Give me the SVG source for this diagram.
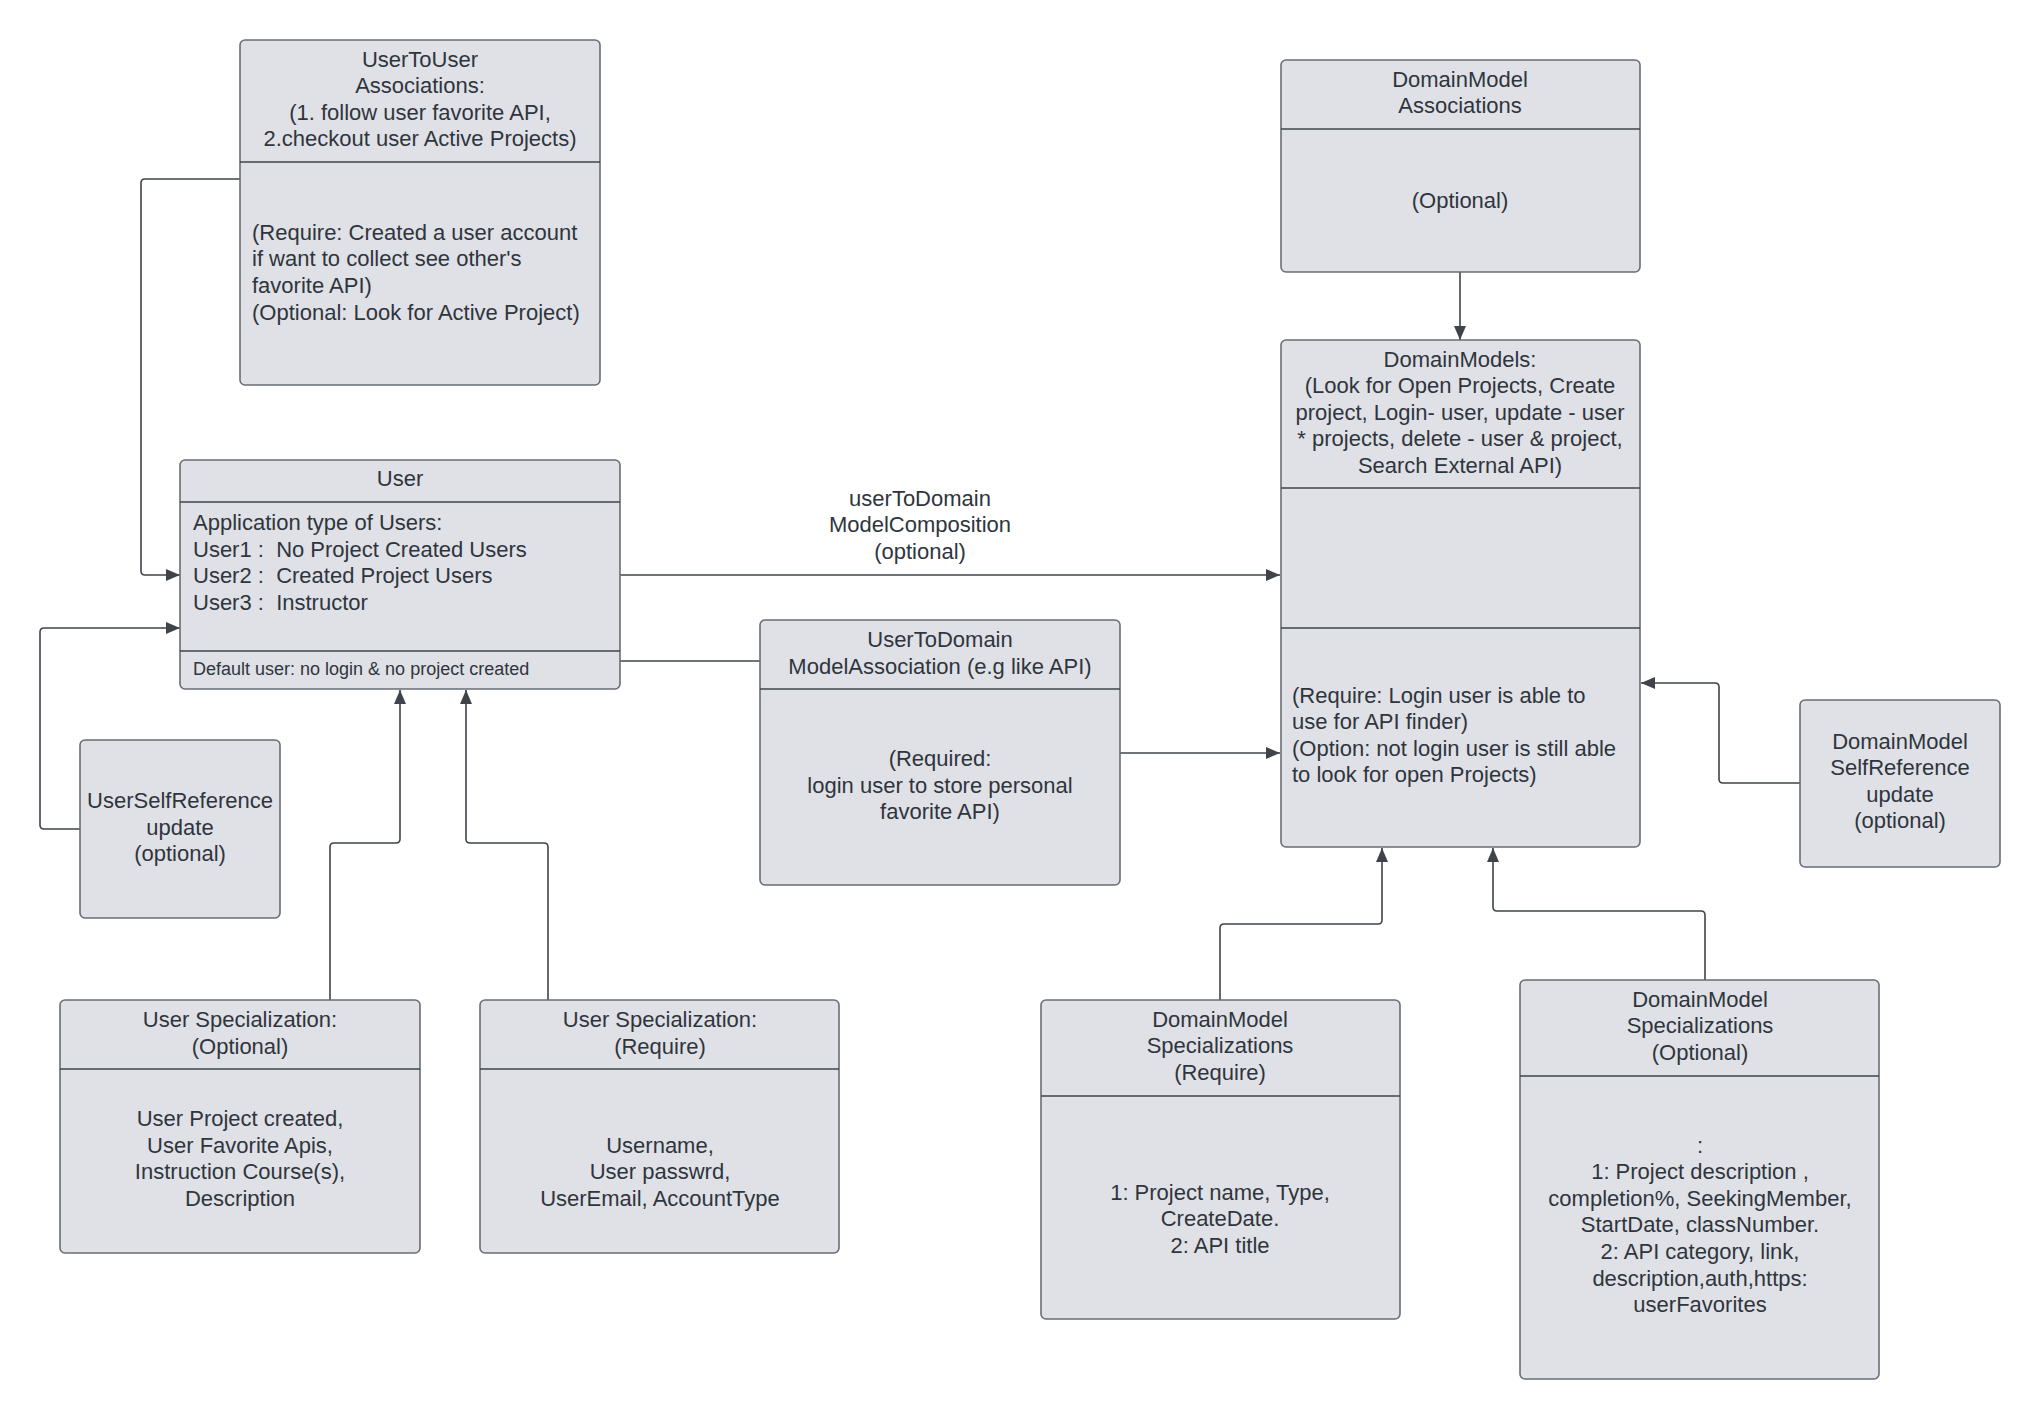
<svg xmlns="http://www.w3.org/2000/svg" width="2041" height="1420" viewBox="0 0 2041 1420">
<defs>
<style>
.box{fill:#dfe1e6;stroke:#6a6e74;stroke-width:1.6}
.div{stroke:#3f444b;stroke-width:1.6}
.t{font-family:"Liberation Sans",Arial,sans-serif;font-size:22px;fill:#2f353d;white-space:pre}
.c{text-anchor:middle}
.s{font-size:18px}
.con{fill:none;stroke:#3f444b;stroke-width:1.6}
</style>
<marker id="arr" viewBox="0 0 14 12" refX="14" refY="6" markerWidth="14" markerHeight="12" markerUnits="userSpaceOnUse" orient="auto">
<path d="M0,0 L14,6 L0,12 Z" fill="#3f444b"/>
</marker>
</defs>
<rect width="2041" height="1420" fill="#ffffff"/>

<g id="connectors">
<path class="con" d="M240,179 H145 Q141,179 141,183 V571 Q141,575 145,575 H180" marker-end="url(#arr)"/>
<path class="con" d="M80,829 H44 Q40,829 40,825 V632 Q40,628 44,628 H180" marker-end="url(#arr)"/>
<path class="con" d="M620,575 H1280" marker-end="url(#arr)"/>
<path class="con" d="M620,661 H760"/>
<path class="con" d="M1120,753 H1280" marker-end="url(#arr)"/>
<path class="con" d="M1460,272 V340" marker-end="url(#arr)"/>
<path class="con" d="M1800,783 H1723 Q1719,783 1719,779 V687 Q1719,683 1715,683 H1641" marker-end="url(#arr)"/>
<path class="con" d="M330,1000 V847 Q330,843 334,843 H396 Q400,843 400,839 V690" marker-end="url(#arr)"/>
<path class="con" d="M548,1000 V847 Q548,843 544,843 H470 Q466,843 466,839 V690" marker-end="url(#arr)"/>
<path class="con" d="M1220,1000 V928 Q1220,924 1224,924 H1378 Q1382,924 1382,920 V848" marker-end="url(#arr)"/>
<path class="con" d="M1705,980 V915 Q1705,911 1701,911 H1497 Q1493,911 1493,907 V848" marker-end="url(#arr)"/>
<text class="t c"><tspan x="920" y="505.5">userToDomain</tspan><tspan x="920" y="532">ModelComposition</tspan><tspan x="920" y="559">(optional)</tspan></text>
</g>

<g id="userToUser">
<rect class="box" x="240" y="40" width="360" height="345" rx="5"/>
<line class="div" x1="240" y1="162" x2="600" y2="162"/>
<text class="t c"><tspan x="420" y="66.5">UserToUser</tspan><tspan x="420" y="93">Associations:</tspan><tspan x="420" y="119.5">(1. follow user favorite API,</tspan><tspan x="420" y="146">2.checkout user Active Projects)</tspan></text>
<text class="t"><tspan x="252" y="239.5">(Require: Created a user account</tspan><tspan x="252" y="266">if want to collect see other's</tspan><tspan x="252" y="293">favorite API)</tspan><tspan x="252" y="319.5">(Optional: Look for Active Project)</tspan></text>
</g>

<g id="user">
<rect class="box" x="180" y="460" width="440" height="229" rx="5"/>
<line class="div" x1="180" y1="502" x2="620" y2="502"/>
<line class="div" x1="180" y1="651" x2="620" y2="651"/>
<text class="t c" x="400" y="485.5">User</text>
<text class="t"><tspan x="193" y="529.5">Application type of Users:</tspan><tspan x="193" y="556.5">User1 :  No Project Created Users</tspan><tspan x="193" y="582.5">User2 :  Created Project Users</tspan><tspan x="193" y="609.5">User3 :  Instructor</tspan></text>
<text class="t s" x="193" y="675">Default user: no login &amp; no project created</text>
</g>

<g id="userSelfReference">
<rect class="box" x="80" y="740" width="200" height="178" rx="5"/>
<text class="t c"><tspan x="180" y="807.5">UserSelfReference</tspan><tspan x="180" y="834.5">update</tspan><tspan x="180" y="860.5">(optional)</tspan></text>
</g>

<g id="userSpecOptional">
<rect class="box" x="60" y="1000" width="360" height="253" rx="5"/>
<line class="div" x1="60" y1="1069" x2="420" y2="1069"/>
<text class="t c"><tspan x="240" y="1026.5">User Specialization:</tspan><tspan x="240" y="1053.5">(Optional)</tspan></text>
<text class="t c"><tspan x="240" y="1125.5">User Project created,</tspan><tspan x="240" y="1152.5">User Favorite Apis,</tspan><tspan x="240" y="1179">Instruction Course(s),</tspan><tspan x="240" y="1206">Description</tspan></text>
</g>

<g id="userSpecRequire">
<rect class="box" x="480" y="1000" width="359" height="253" rx="5"/>
<line class="div" x1="480" y1="1069" x2="839" y2="1069"/>
<text class="t c"><tspan x="660" y="1026.5">User Specialization:</tspan><tspan x="660" y="1053.5">(Require)</tspan></text>
<text class="t c"><tspan x="660" y="1152.5">Username,</tspan><tspan x="660" y="1179">User passwrd,</tspan><tspan x="660" y="1206">UserEmail, AccountType</tspan></text>
</g>

<g id="userToDomainAssociation">
<rect class="box" x="760" y="620" width="360" height="265" rx="5"/>
<line class="div" x1="760" y1="689" x2="1120" y2="689"/>
<text class="t c"><tspan x="940" y="646.5">UserToDomain</tspan><tspan x="940" y="673.5">ModelAssociation (e.g like API)</tspan></text>
<text class="t c"><tspan x="940" y="765.5">(Required:</tspan><tspan x="940" y="792.5">login user to store personal</tspan><tspan x="940" y="819">favorite API)</tspan></text>
</g>

<g id="domainModelAssociations">
<rect class="box" x="1281" y="60" width="359" height="212" rx="5"/>
<line class="div" x1="1281" y1="129" x2="1640" y2="129"/>
<text class="t c"><tspan x="1460" y="86.5">DomainModel</tspan><tspan x="1460" y="112.5">Associations</tspan></text>
<text class="t c" x="1460" y="207.5">(Optional)</text>
</g>

<g id="domainModels">
<rect class="box" x="1281" y="340" width="359" height="507" rx="5"/>
<line class="div" x1="1281" y1="488" x2="1640" y2="488"/>
<line class="div" x1="1281" y1="628" x2="1640" y2="628"/>
<text class="t c"><tspan x="1460" y="366.5">DomainModels:</tspan><tspan x="1460" y="393">(Look for Open Projects, Create</tspan><tspan x="1460" y="419.5">project, Login- user, update - user</tspan><tspan x="1460" y="446">* projects, delete - user &amp; project,</tspan><tspan x="1460" y="473">Search External API)</tspan></text>
<text class="t"><tspan x="1292" y="702.5">(Require: Login user is able to</tspan><tspan x="1292" y="729">use for API finder)</tspan><tspan x="1292" y="755.5">(Option: not login user is still able</tspan><tspan x="1292" y="782">to look for open Projects)</tspan></text>
</g>

<g id="domainModelSelfReference">
<rect class="box" x="1800" y="700" width="200" height="167" rx="5"/>
<text class="t c"><tspan x="1900" y="748.5">DomainModel</tspan><tspan x="1900" y="775">SelfReference</tspan><tspan x="1900" y="801.5">update</tspan><tspan x="1900" y="828">(optional)</tspan></text>
</g>

<g id="domainModelSpecRequire">
<rect class="box" x="1041" y="1000" width="359" height="319" rx="5"/>
<line class="div" x1="1041" y1="1096" x2="1400" y2="1096"/>
<text class="t c"><tspan x="1220" y="1026.5">DomainModel</tspan><tspan x="1220" y="1053">Specializations</tspan><tspan x="1220" y="1079.5">(Require)</tspan></text>
<text class="t c"><tspan x="1220" y="1199.5">1: Project name, Type,</tspan><tspan x="1220" y="1226">CreateDate.</tspan><tspan x="1220" y="1252.5">2: API title</tspan></text>
</g>

<g id="domainModelSpecOptional">
<rect class="box" x="1520" y="980" width="359" height="399" rx="5"/>
<line class="div" x1="1520" y1="1076" x2="1879" y2="1076"/>
<text class="t c"><tspan x="1700" y="1006.5">DomainModel</tspan><tspan x="1700" y="1033">Specializations</tspan><tspan x="1700" y="1059.5">(Optional)</tspan></text>
<text class="t c"><tspan x="1700" y="1152.5">:</tspan><tspan x="1700" y="1179">1: Project description ,</tspan><tspan x="1700" y="1205.5">completion%, SeekingMember,</tspan><tspan x="1700" y="1232">StartDate, classNumber.</tspan><tspan x="1700" y="1259">2: API category, link,</tspan><tspan x="1700" y="1285.5">description,auth,https:</tspan><tspan x="1700" y="1312">userFavorites</tspan></text>
</g>
</svg>
